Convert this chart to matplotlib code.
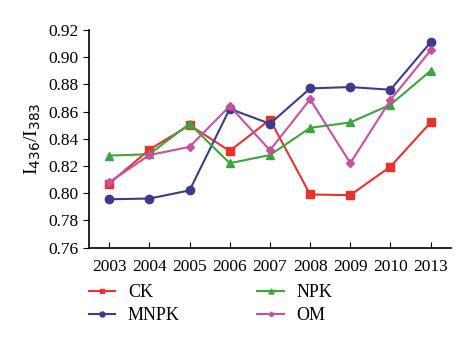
import numpy as np
import matplotlib.pyplot as plt

plt.rcParams['font.family'] = ['Liberation Serif', 'DejaVu Serif']

years = ['2003', '2004', '2005', '2006', '2007', '2008', '2009', '2010', '2013']
ck = [0.807, 0.832, 0.850, 0.831, 0.854, 0.799, 0.7985, 0.8195, 0.852]
mnpk = [0.7955, 0.796, 0.802, 0.862, 0.851, 0.877, 0.878, 0.876, 0.911]
npk = [0.8276, 0.8286, 0.851, 0.822, 0.828, 0.848, 0.852, 0.865, 0.890]
om = [0.808, 0.828, 0.834, 0.864, 0.8315, 0.869, 0.822, 0.8685, 0.905]

x = np.arange(len(years))

fig = plt.figure(figsize=(4.74, 3.4), dpi=100)
ax = fig.add_axes([0.188, 0.272, 0.763, 0.64])

ax.plot(x, ck, color='#e8332a', marker='s', markersize=6, lw=1.5, label='CK')
ax.plot(x, mnpk, color='#3d3b8e', marker='o', markersize=6, lw=1.5, label='MNPK')
ax.plot(x, npk, color='#3aa63c', marker='^', markersize=6, lw=1.5, label='NPK')
ax.plot(x, om, color='#c9509f', marker='D', markersize=4, lw=1.5, label='OM')

ax.set_xlim(-0.5, 8.5)
ax.set_ylim(0.76, 0.92)
ax.set_xticks(x)
ax.set_xticklabels(years)
ax.set_yticks(np.arange(0.76, 0.921, 0.02))
ax.set_yticklabels(['%.2f' % v for v in np.arange(0.76, 0.921, 0.02)])
ax.tick_params(axis='x', direction='in', length=4, labelsize=12.5, pad=8)
ax.tick_params(axis='y', direction='out', length=4, labelsize=12.5)
for s in ['top', 'right']:
    ax.spines[s].set_visible(False)
ax.spines['left'].set_linewidth(1.2)
ax.spines['bottom'].set_linewidth(1.2)
ax.set_ylabel(r'I$_{436}$/I$_{383}$', fontsize=14)

ax.legend(loc='upper left', bbox_to_anchor=(-0.045, -0.095), ncol=2, frameon=False,
          fontsize=13, markerscale=0.6, handlelength=1.45, columnspacing=4.3,
          labelspacing=0.3, handletextpad=0.7)

fig.savefig('out.png', dpi=100)
